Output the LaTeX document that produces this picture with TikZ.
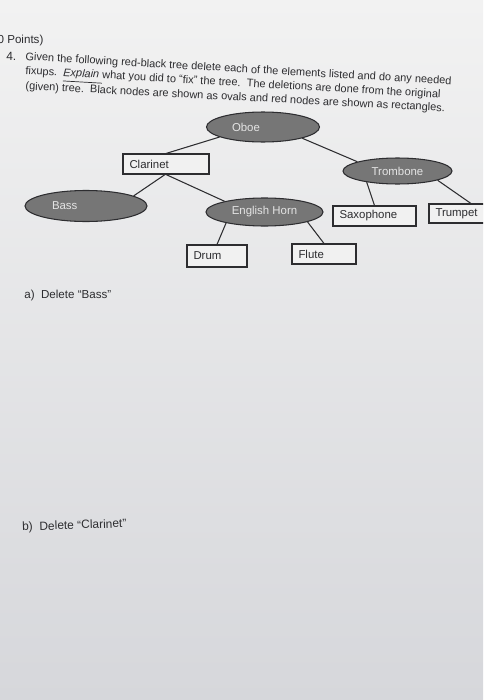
\documentclass[tikz,border=0pt]{standalone}
\usepackage{fontspec}
\setmainfont{Liberation Sans}
\usetikzlibrary{shapes.geometric}
\definecolor{papertop}{RGB}{242,242,242}
\definecolor{paperlow}{RGB}{214,215,219}
\definecolor{ink}{RGB}{45,45,48}
\definecolor{ovalfill}{RGB}{118,118,118}
\definecolor{ovaltext}{RGB}{228,228,228}
\definecolor{boxfill}{RGB}{241,241,241}
\tikzset{
  blacknode/.style={ellipse, draw=ink, fill=ovalfill, text=ovaltext,
    inner sep=0pt, font=\fontsize{6.5}{7}\selectfont, line width=0.6pt},
  rednode/.style={rectangle, draw=ink, fill=boxfill, text=ink,
    minimum height=0.4cm, inner xsep=0.13cm, inner ysep=0pt, align=left,
    font=\fontsize{6.5}{7}\selectfont, line width=0.6pt},
  link/.style={line width=0.6pt, color=ink},
  question/.style={anchor=base west, inner sep=0pt, text=ink,
    font=\fontsize{6.25}{7}\selectfont}
}
\begin{document}
\begin{tikzpicture}
  % --- Page ---
  \clip (0,0) rectangle (9.66,-14);
  \shade[top color=papertop, bottom color=paperlow] (0,0) rectangle (9.66,-14);

  % --- Question text ---
  \node[question, font=\fontsize{6.6}{8}\selectfont] (pts) at (-0.054,-0.86) {0 Points)};
  \node[question, font=\fontsize{6.8}{8}\selectfont] (num) at (0.12,-1.20) {4.};
  \node[question, rotate=-3.3] (line1) at (0.50,-1.20)
    {Given the following red-black tree delete each of the elements listed and do any needed};
  \node[question, rotate=-3.3] (line2) at (0.50,-1.48)
    {fixups.\ \ \underline{\textit{Explain} }what you did to “fix” the tree.\ \ The deletions are done from the original};
  \node[question, rotate=-3.0] (line3) at (0.50,-1.79)
    {(given) tree.\ \ Black nodes are shown as ovals and red nodes are shown as rectangles.};

  % --- Tree ---
  \node[blacknode, minimum width=2.26cm, minimum height=0.60cm,
        text width=1.24cm, align=left] (oboe) at (5.26,-2.54) {Oboe};
  \node[rednode, text width=1.46cm] (clarinet) at (3.32,-3.28) {Clarinet};
  \node[blacknode, minimum width=2.18cm, minimum height=0.52cm] (trombone) at (7.95,-3.42) {Trombone};
  \node[blacknode, minimum width=2.44cm, minimum height=0.62cm,
        text width=1.36cm, align=left] (bass) at (1.72,-4.12) {Bass};
  \node[blacknode, minimum width=2.34cm, minimum height=0.56cm] (horn) at (5.29,-4.24) {English Horn};
  \node[rednode, text width=1.40cm] (saxophone) at (7.49,-4.32) {Saxophone};
  \node[rednode, text width=0.94cm, minimum height=0.38cm] (trumpet) at (9.18,-4.27) {Trumpet};
  \node[rednode, text width=0.94cm, minimum height=0.44cm] (drum) at (4.34,-5.12) {Drum};
  \node[rednode, text width=1.02cm] (flute) at (6.48,-5.08) {Flute};

  \draw[link] (oboe.193) -- (clarinet.north);
  \draw[link] (oboe.-16) -- (trombone.167);
  \draw[link] (clarinet.265) -- (bass.12);
  \draw[link] (clarinet.south) -- (horn.165);
  \draw[link] (trombone.200) -- (saxophone.north);
  \draw[link] (trombone.-13) -- (trumpet.40);
  \draw[link] (horn.196) -- (drum.north);
  \draw[link] (horn.-13) -- (flute.north);

  % --- Parts ---
  \node[question, font=\fontsize{6.6}{8}\selectfont] (parta) at (0.48,-5.96) {a)\ \ Delete “Bass”};
  \node[question, font=\fontsize{6.8}{8}\selectfont, rotate=2] (partb) at (0.44,-10.62) {b)\ \ Delete “Clarinet”};
\end{tikzpicture}
\end{document}
